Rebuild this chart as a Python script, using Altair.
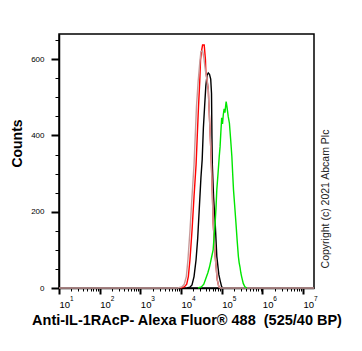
import altair as alt
import pandas as pd

# ---- data (x as log10 of intensity, y as counts) ----
rosy_lx = [1.0, 3.92, 4.02, 4.08, 4.13, 4.17, 4.22, 4.27, 4.32, 4.35, 4.38, 4.42, 4.46, 4.49, 4.53,
           4.56, 4.60, 4.64, 4.67, 4.71, 4.74, 4.77, 4.79, 4.84, 4.89, 4.93, 4.97, 7.27]
rosy_ct = [0, 0, 3, 10, 30, 74, 150, 240, 323, 400, 476, 540, 590, 620, 622,
           605, 570, 545, 520, 420, 345, 250, 171, 83, 22, 3, 0, 0]

red_lx = [3.98, 4.08, 4.14, 4.18, 4.22, 4.27, 4.32, 4.37, 4.40, 4.43, 4.46, 4.48, 4.51, 4.53, 4.57,
          4.60, 4.61, 4.64, 4.67, 4.71, 4.74, 4.77, 4.79, 4.84, 4.89, 4.93, 4.97]
red_ct = [0, 3, 10, 30, 74, 150, 240, 323, 400, 476, 540, 598, 625, 637, 637,
          600, 567, 545, 520, 420, 345, 250, 171, 83, 22, 3, 0]

black_lx = [4.15, 4.22, 4.27, 4.32, 4.37, 4.41, 4.45, 4.49, 4.52, 4.55, 4.58, 4.61, 4.64, 4.67, 4.70,
            4.73, 4.75, 4.76, 4.77, 4.80, 4.84, 4.88, 4.93, 4.96, 5.00, 5.03]
black_ct = [0, 2, 8, 30, 74, 130, 210, 290, 336, 420, 476, 530, 558, 564, 560,
            548, 510, 400, 323, 240, 171, 83, 35, 20, 3, 0]

green_lx = [4.42, 4.50, 4.56, 4.61, 4.66, 4.70, 4.75, 4.79, 4.81, 4.84, 4.86, 4.88, 4.91, 4.94, 4.96,
            4.98, 5.00, 5.02, 5.04, 5.06, 5.08, 5.10, 5.11, 5.13, 5.16, 5.19, 5.22, 5.25, 5.27, 5.29,
            5.32, 5.35, 5.38, 5.41, 5.43, 5.45, 5.47, 5.49, 5.53, 5.57, 5.62]
green_ct = [0, 3, 10, 25, 40, 55, 80, 100, 130, 171, 210, 258, 300, 345, 370,
            410, 446, 430, 455, 470, 460, 480, 489, 475, 450, 432, 390, 345, 300, 258,
            215, 171, 125, 83, 66, 55, 40, 30, 12, 3, 0]

x_major = [10, 100, 1000, 10000, 100000, 1000000, 10000000]
x_exponents = ["1", "2", "3", "4", "5", "6", "7"]
y_ticks = [0, 50, 100, 150, 200, 250, 300, 350, 400, 450, 500, 550, 600, 650]

x_title = "Anti-IL-1RAcP- Alexa Fluor\u00ae 488\u00a0 (525/40 BP)"
y_title = "Counts"
copyright_text = "Copyright (c) 2021 Abcam Plc"

# ---- layout ----
W, H = 255, 254
FONT = "Liberation Sans"

x_ticks = [m * 10 ** k for k in range(1, 7) for m in range(1, 10)] + [10 ** 7]
MAJ_X = "abs(log(datum.value)/LN10 - round(log(datum.value)/LN10)) < 0.001"
MAJ_Y = "datum.value % 200 === 0"

xscale = alt.Scale(type="log", domain=[10, 18600000], nice=False)
yscale = alt.Scale(domain=[0, 666], nice=False)

xaxis = alt.Axis(
    values=x_ticks, title=x_title, grid=False,
    labelExpr=f"{MAJ_X} ? '10' : ''",
    labelAlign="left", labelBaseline="alphabetic", labelPadding=13,
    labelFontSize=9.5, labelFont=FONT, labelColor="black",
    labelOverlap=False, labelFlush=False, labelBound=False,
    tickSize={"condition": {"test": MAJ_X, "value": 6}, "value": 3},
    tickWidth={"condition": {"test": MAJ_X, "value": 2}, "value": 1},
    tickColor="black", domainColor="black", domainWidth=1.5,
    titleFont=FONT, titleFontSize=14.5, titleFontWeight="bold", titleColor="black",
    titleBaseline="alphabetic", titleY=36,
)
yaxis = alt.Axis(
    values=y_ticks, title=y_title, grid=False,
    labelExpr=f"{MAJ_Y} ? datum.label : ''",
    labelPadding=7, labelFontSize=8, labelFont=FONT, labelColor="black",
    labelOverlap=False, labelFlush=False, labelBound=False,
    tickSize={"condition": {"test": MAJ_Y, "value": 8}, "value": 4},
    tickWidth={"condition": {"test": MAJ_Y, "value": 2}, "value": 1},
    tickColor="black", domainColor="black", domainWidth=1.5,
    titleFont=FONT, titleFontSize=14, titleFontWeight="bold", titleColor="black",
    titleAngle=270, titleBaseline="alphabetic", titleX=-38, titleY=109,
)


def curve(lx, ct, color, width=1.4, opacity=1.0):
    df = pd.DataFrame({"lx": lx, "count": ct})
    return (
        alt.Chart(df)
        .transform_calculate(x="pow(10, datum.lx)")
        .mark_line(color=color, strokeWidth=width, opacity=opacity, interpolate="linear")
        .encode(
            x=alt.X("x:Q", scale=xscale, axis=xaxis),
            y=alt.Y("count:Q", scale=yscale, axis=yaxis),
            order="lx:Q",
        )
    )


red = curve(red_lx, red_ct, "#ff0000")
rosy = curve(rosy_lx, rosy_ct, "#c79a9a")
black = curve(black_lx, black_ct, "#000000")
green = curve(green_lx, green_ct, "#00e600")

exp_df = pd.DataFrame({"v": x_major, "e": x_exponents})
exps = (
    alt.Chart(exp_df)
    .mark_text(align="left", baseline="alphabetic", fontSize=6.5, font=FONT, color="black", dx=11)
    .encode(x=alt.X("v:Q", scale=xscale, axis=xaxis), y=alt.value(H + 12.5), text="e:N")
)

copy_df = pd.DataFrame({"t": [copyright_text]})
copy_txt = (
    alt.Chart(copy_df)
    .mark_text(angle=270, align="center", baseline="middle", fontSize=10.5, font=FONT, color="#222222")
    .encode(x=alt.value(267), y=alt.value(165), text="t:N")
)

chart = (
    alt.layer(black, red, rosy, green, exps, copy_txt)
    .properties(
        width=W, height=H,
        autosize=alt.AutoSizeParams(type="none"),
        padding={"left": 59, "top": 34, "right": 48, "bottom": 63},
        background="white",
    )
    .configure_view(stroke="black", strokeWidth=1.5)
)

chart.save("out.html", embed_options={"renderer": "svg", "actions": False})
